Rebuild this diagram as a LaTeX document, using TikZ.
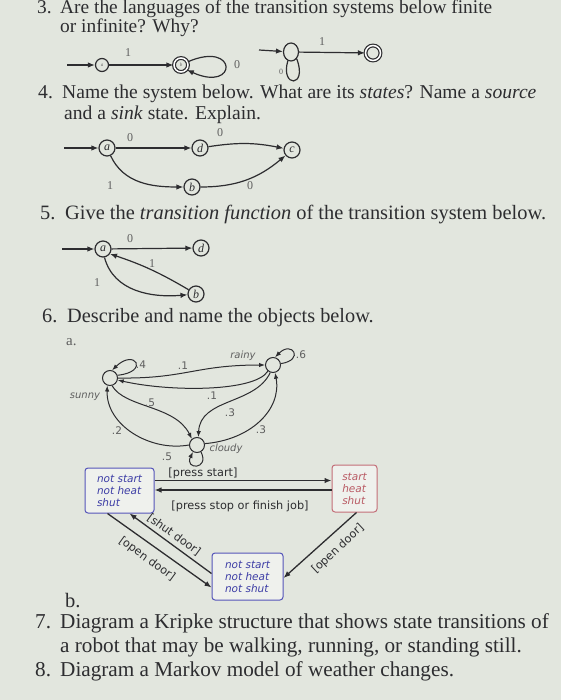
\documentclass[tikz,border=0pt]{standalone}
\usepackage{fontspec}
\setmainfont{Liberation Serif}
\setsansfont{DejaVu Sans}
\usetikzlibrary{arrows.meta,shapes.geometric}
\definecolor{bg}{RGB}{226,230,222}
\definecolor{ink}{RGB}{45,45,48}
\definecolor{lgray}{RGB}{95,95,95}
\definecolor{bblue}{RGB}{85,85,185}
\definecolor{tblue}{RGB}{60,60,165}
\definecolor{bred}{RGB}{195,110,120}
\definecolor{tred}{RGB}{185,90,100}
\tikzset{
  qtxt/.style={anchor=base west, inner sep=0pt, text=ink, font=\fontsize{#1}{#1}\selectfont},
  qtxt/.default=19.4,
  st/.style={circle, draw=ink, line width=1.2pt, minimum size=16pt, inner sep=0pt, text=ink, font=\fontsize{12}{12}\selectfont\itshape},
  edge/.style={draw=ink, line width=1.2pt, -{Latex[length=7pt,width=5.5pt]}},
  plain/.style={draw=ink, line width=1.2pt},
  lbl/.style={text=lgray, inner sep=1pt, font=\fontsize{12}{12}\selectfont},
  wst/.style={circle, draw=ink, line width=1pt, minimum size=15pt, inner sep=0pt},
  wedge/.style={draw=ink, line width=1pt, -{Latex[length=6pt,width=4.5pt]}},
  wl/.style={text=lgray, inner sep=0pt, font=\fontsize{10.5}{10.5}\selectfont\sffamily},
  wname/.style={text=lgray, inner sep=0pt, font=\fontsize{10}{10}\selectfont\sffamily\itshape},
  mbox/.style={rectangle, rounded corners=3pt, line width=1pt, align=left, inner sep=3pt, fill=white!45!bg, font=\fontsize{10.5}{12}\selectfont\sffamily\itshape},
  medge/.style={draw=ink, line width=1.3pt, -{Latex[length=7pt,width=5.5pt]}},
  ml/.style={text=ink, inner sep=0pt, font=\fontsize{11.3}{11.3}\selectfont\sffamily}
}
\begin{document}
\begin{tikzpicture}[x=1pt,y=1pt]
\fill[bg] (0,0) rectangle (561,-700);
\useasboundingbox (0,0) rectangle (561,-700);

% ---- question texts
\node[qtxt=19.4] (n3) at (37,-14) {3.};
\node[qtxt=19.4] (t3a) at (60,-14) {Are the languages of the transition systems below finite};
\node[qtxt=19.4] (t3b) at (60,-33) {or infinite? Why?};
\node[qtxt=19.6] (n4) at (38,-99) {4.};
\node[qtxt=19.6] (t4a) at (62,-99) {Name the system below. What are its \emph{states}? Name a \emph{source}};
\node[qtxt=19.6] (t4b) at (64,-120) {and a \emph{sink} state. Explain.};
\node[qtxt=20.4] (n5) at (40,-220) {5.};
\node[qtxt=20.4] (t5) at (65,-220) {Give the \emph{transition function} of the transition system below.};
\node[qtxt=20.3] (n6) at (42,-322) {6.};
\node[qtxt=20.3] (t6) at (67,-322) {Describe and name the objects below.};
\node[anchor=base west, inner sep=0pt, text=lgray, font=\fontsize{15}{15}\selectfont] (ta) at (66,-345) {a.};
\node[qtxt=20.5] (tb) at (65,-607) {b.};
\node[qtxt=21.2] (n7) at (35,-628) {7.};
\node[qtxt=21.2] (t7a) at (60,-628) {Diagram a Kripke structure that shows state transitions of};
\node[qtxt=21.2] (t7b) at (60,-652) {a robot that may be walking, running, or standing still.};
\node[qtxt=21.2] (n8) at (35,-676) {8.};
\node[qtxt=21.2] (t8) at (60,-676) {Diagram a Markov model of weather changes.};

% ---- question 3 diagrams
\node[st, minimum size=13pt, text=lgray, font=\fontsize{5}{5}\selectfont\itshape] (q3a) at (102,-65) {a};
\node[st, double, double distance=1.5pt, minimum size=14pt, text=lgray, font=\fontsize{5}{5}\selectfont\itshape] (q3b) at (181,-65) {b};
\coordinate (q3in) at (67,-65);
\draw[edge] (q3in) -- (q3a);
\draw[edge] (q3a) -- (q3b);
\node[lbl] (l31) at (128,-53) {1};
\draw[edge] (q3b.25) .. controls (238,-40) and (238,-93) .. (q3b.-40);
\node[lbl] (l30) at (237,-65) {0};

\node[ellipse, draw=ink, line width=1.2pt, minimum width=15pt, minimum height=18pt, inner sep=0pt] (q3c) at (291,-52) {};
\node[st, double, double distance=1.5pt, minimum size=15pt] (q3d) at (373,-53) {};
\coordinate (q3cin) at (259,-50);
\draw[edge] (q3cin) -- (q3c);
\draw[edge] (q3c) -- (q3d);
\node[lbl] (l32) at (322,-42) {1};
\draw[plain] (q3c.-110) .. controls (280,-88) and (308,-88) .. (q3c.-50);
\node[lbl, font=\fontsize{8}{8}\selectfont] (l33) at (281,-72) {0};

% ---- question 4 diagram
\node[st] (a4) at (107,-148) {a};
\node[st] (d4) at (200,-148) {d};
\node[st] (c4) at (292,-150) {c};
\node[st] (b4) at (192,-187) {b};
\coordinate (a4in) at (64,-148);
\draw[edge] (a4in) -- (a4);
\draw[edge] (a4) -- (d4);
\draw[edge] (d4) to[bend left=10] (c4);
\draw[edge] (a4) to[out=-65, in=180] (b4);
\draw[edge] (b4) to[out=0, in=-140] (c4);
\node[lbl] (l41) at (130,-138) {0};
\node[lbl] (l42) at (220,-133) {0};
\node[lbl] (l43) at (110,-186) {1};
\node[lbl] (l44) at (250,-186) {0};

% ---- question 5 diagram
\node[st] (a5) at (103,-249) {a};
\node[st] (d5) at (201,-248) {d};
\node[st] (b5) at (196,-294) {b};
\coordinate (a5in) at (62,-249);
\draw[edge] (a5in) -- (a5);
\draw[edge] (a5) -- (d5);
\draw[edge] (b5.150) to[bend right=6] (a5.-35);
\draw[edge] (a5.-80) to[out=-75, in=185] (b5);
\node[lbl] (l51) at (130,-239) {0};
\node[lbl] (l52) at (152,-264) {1};
\node[lbl] (l53) at (97,-283) {1};

% ---- weather Markov chain
\node[wst] (sunny) at (110,-378) {};
\node[wst] (rainy) at (273,-365) {};
\node[wst] (cloudy) at (197,-445) {};
\node[wname] (nsun) at (85,-397) {sunny};
\node[wname] (nrain) at (243,-356) {rainy};
\node[wname] (ncloud) at (226,-449) {cloudy};
\draw[wedge] (sunny.east) .. controls (185,-379) and (195,-365) .. (rainy.west);
\draw[wedge] (rainy.-130) .. controls (255,-392) and (170,-392) .. (sunny.-15);
\draw[wedge] (sunny.-75) .. controls (125,-408) and (175,-405) .. (cloudy.130);
\draw[wedge] (cloudy.180) .. controls (150,-452) and (106,-425) .. (sunny.-110);
\draw[wedge] (rainy.-110) .. controls (255,-405) and (200,-398) .. (cloudy.80);
\draw[wedge] (cloudy.10) .. controls (250,-440) and (282,-410) .. (rainy.-75);
\draw[wedge] (sunny.20) .. controls (150,-372) and (135,-348) .. (sunny.75);
\draw[wedge] (rainy.10) .. controls (305,-360) and (292,-340) .. (rainy.75);
\draw[wedge] (cloudy.-60) .. controls (210,-470) and (184,-470) .. (cloudy.-120);
\node[wl] (w1) at (141,-365) {.4};
\node[wl] (w2) at (301,-355) {.6};
\node[wl] (w3) at (183,-366) {.1};
\node[wl] (w4) at (212,-396) {.1};
\node[wl] (w5) at (150,-403) {.5};
\node[wl] (w6) at (117,-431) {.2};
\node[wl] (w7) at (230,-413) {.3};
\node[wl] (w8) at (261,-430) {.3};
\node[wl] (w9) at (167,-457) {.5};

% ---- microwave state machine
\node[mbox, draw=bblue, text=tblue, minimum width=69pt, minimum height=45pt] (m1) at (119.5,-490.5) {not start\\not heat\\shut};
\node[mbox, draw=bred, text=tred, minimum width=45pt, minimum height=47pt] (m2) at (354.5,-488.5) {start\\heat\\shut};
\node[mbox, draw=bblue, text=tblue, minimum width=71pt, minimum height=47pt] (m3) at (247.5,-576.5) {not start\\not heat\\not shut};
\draw[medge] ([yshift=10pt]m1.east) -- ([yshift=10pt]m1.east -| m2.west);
\draw[medge] ([yshift=-1.5pt]m2.west) -- ([yshift=-1.5pt]m2.west -| m1.east);
\draw[medge] ([xshift=-12pt]m1.south) -- ([yshift=-11pt]m3.west);
\draw[medge] ([yshift=3pt]m3.west) -- ([xshift=10pt]m1.south);
\draw[medge] ([xshift=2pt]m2.south) -- ([yshift=-1.5pt]m3.east);
\node[ml] (ml1) at (203,-473) {[press start]};
\node[ml] (ml2) at (240,-506) {[press stop or finish job]};
\node[ml, rotate=-36] (ml3) at (147,-559) {[open door]};
\node[ml, rotate=-36] (ml4) at (174,-535) {[shut door]};
\node[ml, rotate=43] (ml5) at (338,-549) {[open door]};
\end{tikzpicture}
\end{document}
